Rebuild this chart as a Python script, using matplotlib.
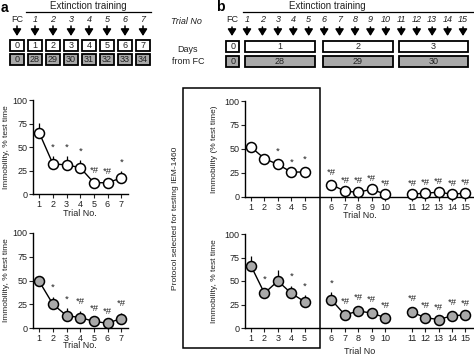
import matplotlib
matplotlib.use('Agg')
import matplotlib.pyplot as plt
from matplotlib.patches import Rectangle
import numpy as np

plt.rcParams['font.family'] = ['Liberation Sans', 'DejaVu Sans']

# ---------------- data ----------------
a_trials = [1, 2, 3, 4, 5, 6, 7]
a_trial_boxes = [0, 1, 2, 3, 4, 5, 6, 7]
a_day_boxes = [0, 28, 29, 30, 31, 32, 33, 34]
a_top_mean = [65, 32, 31, 28, 12, 12, 17]
a_top_err = [11, 8, 9, 8, 3, 2, 7]
a_top_sig = ['', '*', '*', '*', '*#', '*#', '*']
a_bot_mean = [49, 25, 13, 11, 7, 5, 10]
a_bot_err = [4, 8, 8, 7, 4, 3, 6]
a_bot_sig = ['', '*', '*', '*#', '*#', '*#', '*#']

b_trials = list(range(1, 16))
b_session_boxes = [0, 1, 2, 3]
b_day_boxes = [0, 28, 29, 30]
b_top_mean = [52, 40, 34, 26, 26, 13, 6, 5, 8, 3, 3, 4, 5, 3, 4]
b_top_err = [4, 4, 4, 1, 4, 3, 2, 2, 2, 1, 1, 1, 1, 1, 1]
b_top_sig = ['', '', '*', '*', '*'] + ['*#'] * 10
b_bot_mean = [66, 37, 50, 37, 28, 30, 14, 18, 16, 11, 17, 11, 9, 13, 14]
b_bot_err = [11, 5, 12, 8, 7, 8, 4, 5, 5, 3, 5, 3, 3, 4, 2]
b_bot_sig = ['', '*', '', '*', '*', '*'] + ['*#'] * 9
yticks = [0, 25, 50, 75, 100]

W, H = 474, 355
fig = plt.figure(figsize=(W / 100, H / 100), dpi=100)
GRAY = '#a9a9a9'
TXT = '#222222'


def px_axes(left, top, right, bottom):
    return fig.add_axes([left / W, 1 - bottom / H, (right - left) / W, (bottom - top) / H])


def style(ax, xlim):
    ax.set_xlim(*xlim)
    ax.set_ylim(0, 100)
    for s in ['top', 'right']:
        ax.spines[s].set_visible(False)
    for s in ['left', 'bottom']:
        ax.spines[s].set_linewidth(1.0)
    ax.set_yticks(yticks)
    ax.tick_params(direction='out', length=3, width=0.8, labelsize=6.5, pad=1.0, colors=TXT)
    ax.patch.set_visible(False)


def draw_series(ax, xs, mean, err, sig, face, groups):
    xs = np.asarray(xs, float)
    mean = np.asarray(mean, float)
    err = np.asarray(err, float)
    for g in groups:
        ax.plot(xs[g], mean[g], color='k', lw=1.0, zorder=2, clip_on=False)
    ax.vlines(xs, mean, mean + err, color='k', lw=0.9, zorder=1)
    ax.plot(xs, mean, 'o', ms=7.2, mfc=face, mec='k', mew=1.1, zorder=3, clip_on=False)
    for x, m, e, s in zip(xs, mean, err, sig):
        if s:
            ax.text(x, m + e + 5, s, ha='center', va='bottom', fontsize=6.8, color=TXT)


# ---------- panel a plots ----------
axa1 = px_axes(33, 100, 128, 194)
style(axa1, (0.54, 7.5))
draw_series(axa1, a_trials, a_top_mean, a_top_err, a_top_sig, 'white', [slice(0, 7)])
axa1.set_xticks(a_trials)

axa2 = px_axes(33, 233, 128, 328)
style(axa2, (0.54, 7.5))
draw_series(axa2, a_trials, a_bot_mean, a_bot_err, a_bot_sig, GRAY, [slice(0, 7)])
axa2.set_xticks(a_trials)

# ---------- panel b plots ----------
b_pos = [t + (t - 1) // 5 for t in b_trials]
groups = [slice(0, 5), slice(5, 10), slice(10, 15)]
axb1 = px_axes(245, 101, 474, 197)
style(axb1, (0.55, 17.64))
draw_series(axb1, b_pos, b_top_mean, b_top_err, b_top_sig, 'white', groups)
axb1.set_xticks(b_pos)
axb1.set_xticklabels([str(t) for t in b_trials])

axb2 = px_axes(245, 234, 474, 328)
style(axb2, (0.55, 17.64))
draw_series(axb2, b_pos, b_bot_mean, b_bot_err, b_bot_sig, GRAY, groups)
axb2.set_xticks(b_pos)
axb2.set_xticklabels([str(t) for t in b_trials])

# ---------- overlay for schematic & labels ----------
ov = fig.add_axes([0, 0, 1, 1])
ov.set_xlim(0, W)
ov.set_ylim(H, 0)
ov.axis('off')
ov.patch.set_visible(False)


def arrow(x, y0, y1):
    ov.annotate('', xy=(x, y1), xytext=(x, y0),
                arrowprops=dict(arrowstyle='-|>,head_length=0.45,head_width=0.28',
                                mutation_scale=9, color='k', lw=1.1, shrinkA=0, shrinkB=0))


def box(x0, y0, x1, y1, label, face):
    ov.add_patch(Rectangle((x0, y0), x1 - x0, y1 - y0, facecolor=face, edgecolor='k', lw=1.3))
    ov.text((x0 + x1) / 2, (y0 + y1) / 2 + 0.5, str(label), ha='center', va='center',
            fontsize=6.5, color=TXT)


# panel a schematic
ov.text(1, 8, 'a', fontsize=10, fontweight='bold', ha='left', va='center')
ov.text(88, 6, 'Extinction training', fontsize=7, ha='center', va='center', color=TXT)
ov.plot([26, 151], [12, 12], color='k', lw=0.9)
a_cols = [17 + 18 * i for i in range(len(a_trial_boxes))]
for i, x in enumerate(a_cols):
    if i == 0:
        ov.text(x, 20, 'FC', fontsize=6.5, ha='center', va='center', color=TXT)
    else:
        ov.text(x, 20, str(a_trials[i - 1]), fontsize=6.5, ha='center', va='center',
                style='italic', color=TXT)
    arrow(x, 26, 36)
    box(x - 6.8, 39.5, x + 6.8, 50.5, a_trial_boxes[i], 'white')
    box(x - 6.8, 53.5, x + 6.8, 65, a_day_boxes[i], GRAY)

# panel b schematic
ov.text(216, 7, 'b', fontsize=10, fontweight='bold', ha='left', va='center')
ov.text(186, 22, 'Trial No', fontsize=6.5, ha='center', va='center', style='italic', color=TXT)
ov.text(188, 50, 'Days', fontsize=6.5, ha='center', va='center', color=TXT)
ov.text(188, 62, 'from FC', fontsize=6.5, ha='center', va='center', color=TXT)
ov.text(327, 6, 'Extinction training', fontsize=7, ha='center', va='center', color=TXT)
ov.plot([243, 473], [12, 12], color='k', lw=0.9)
ov.text(232, 20, 'FC', fontsize=6.5, ha='center', va='center', color=TXT)
arrow(232, 27, 36)
b_cols = [247 + 15.43 * i for i in range(len(b_trials))]
for t, x in zip(b_trials, b_cols):
    ov.text(x, 20, str(t), fontsize=6.5, ha='center', va='center', style='italic', color=TXT)
    arrow(x, 27, 36)
box(226, 40.5, 239.5, 51.5, b_session_boxes[0], 'white')
box(226, 55.5, 239.5, 66.5, b_day_boxes[0], GRAY)
b_spans = [(245, 315), (323, 393), (399, 468)]
for (x0, x1), s, d in zip(b_spans, b_session_boxes[1:], b_day_boxes[1:]):
    box(x0, 40.5, x1, 51.5, s, 'white')
    box(x0, 55.5, x1, 66.5, d, GRAY)

# protocol box
ov.add_patch(Rectangle((183, 88), 320 - 183, 348 - 88, facecolor='none', edgecolor='k', lw=1.1))
ov.text(176, 218, 'Protocol selected for testing IEM-1460', rotation=90, fontsize=6,
        ha='center', va='center', color=TXT)

# axis labels
ov.text(7, 147, 'Immobility, % test time', rotation=90, fontsize=6, ha='center', va='center', color=TXT)
ov.text(7, 280, 'Immobility, % test time', rotation=90, fontsize=6, ha='center', va='center', color=TXT)
ov.text(215, 149, 'Immobility (% test time)', rotation=90, fontsize=6, ha='center', va='center', color=TXT)
ov.text(215, 281, 'Immobility, % test time', rotation=90, fontsize=6, ha='center', va='center', color=TXT)
ov.text(80, 214, 'Trial No.', fontsize=6.5, ha='center', va='center', color=TXT)
ov.text(80, 346, 'Trial No.', fontsize=6.5, ha='center', va='center', color=TXT)
ov.text(360, 216, 'Trial No.', fontsize=6.5, ha='center', va='center', color=TXT)
ov.text(360, 352, 'Trial No', fontsize=6.5, ha='center', va='center', color=TXT)

fig.savefig('out.png', dpi=100)
